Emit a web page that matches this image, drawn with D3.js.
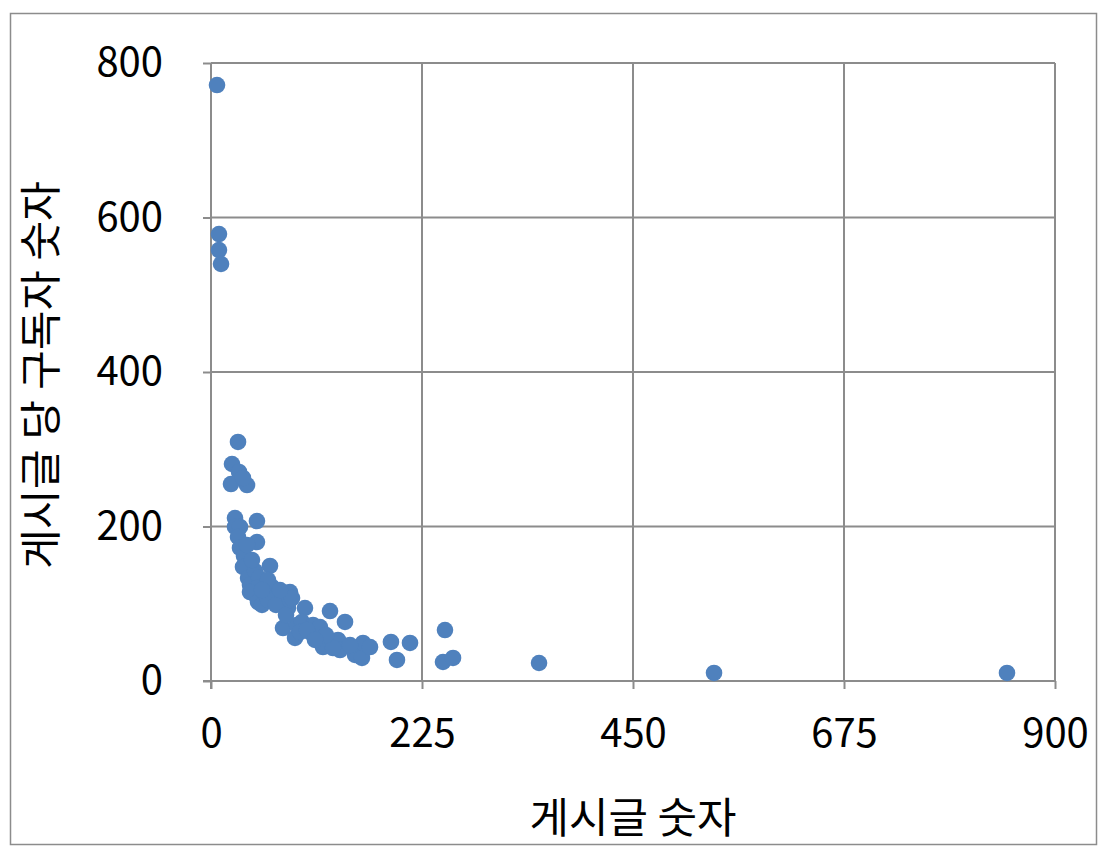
<!DOCTYPE html>
<html><head><meta charset="utf-8">
<script src="https://cdn.jsdelivr.net/npm/d3@7"></script>
<style>
html,body{margin:0;padding:0;background:#fff;}
svg{display:block;}
text{font-family:"Noto Sans CJK KR","Noto Sans",sans-serif;fill:#000;}
</style></head>
<body>
<svg id="chart" width="1104" height="858"></svg>
<script>
const xTicks = [0, 225, 450, 675, 900];
const yTicks = [0, 200, 400, 600, 800];
const xTitle = "게시글 숫자";
const yTitle = "게시글 당 구독자 숫자";
const postCounts = [6.4,8.5,8.5,10.7,28.8,22.4,29.9,21.3,38.4,34.1,25.6,25.6,30.9,28.8,49.0,49.0,30.9,35.2,34.1,39.5,44.8,41.6,46.9,51.2,62.9,49.0,41.6,50.1,54.4,65.0,66.1,60.8,56.5,84.2,82.1,70.4,76.8,91.7,89.6,100.2,97.0,108.8,113.0,119.4,126.9,142.9,135.4,137.6,130.1,105.6,116.2,153.6,161.0,162.1,169.6,191.9,198.3,212.2,249.5,247.4,258.1,349.8,536.4,848.8,60.8,69.3,80.0,94.9,122.6,43.7,38.4,54.4,84.2,86.4,73.6,102.4,110.9,148.2];
const subsPerPost = [771.5,578.6,557.9,539.8,309.4,280.9,270.6,255.0,253.7,262.8,211.0,199.4,199.4,186.4,207.1,179.9,172.2,161.8,147.6,133.3,113.9,124.3,142.4,133.3,148.9,120.4,115.2,102.3,98.4,121.7,107.4,130.7,115.2,115.2,94.5,107.4,68.6,72.5,55.7,94.5,76.4,72.5,57.0,44.0,90.6,76.4,53.1,40.1,42.7,63.4,69.9,33.7,29.8,49.2,44.0,50.5,27.2,49.2,66.0,24.6,29.8,23.3,10.4,10.4,104.9,98.4,85.4,63.4,59.5,156.6,176.1,117.8,104.9,107.4,117.8,66.0,53.1,46.6];

const svg = d3.select("#chart");
const L = 211, R = 1055, T = 63, B = 681;
const x = d3.scaleLinear().domain([0, 900]).range([L, R]);
const y = d3.scaleLinear().domain([0, 800]).range([B, T]);
const grid = "#8c8c8c";

// outer border
svg.append("rect").attr("x", 10.5).attr("y", 13.5).attr("width", 1086).attr("height", 831)
  .attr("fill", "none").attr("stroke", "#8c8c8c").attr("stroke-width", 1.5);

// gridlines
svg.append("g").selectAll("line").data(yTicks.filter(d => d !== 0)).join("line")
  .attr("x1", L).attr("x2", R).attr("y1", d => y(d)).attr("y2", d => y(d))
  .attr("stroke", grid).attr("stroke-width", 2);
svg.append("g").selectAll("line").data(xTicks.filter(d => d !== 0)).join("line")
  .attr("x1", d => x(d)).attr("x2", d => x(d)).attr("y1", T).attr("y2", B)
  .attr("stroke", grid).attr("stroke-width", 2);

// axes
const xAxis = svg.append("g").attr("transform", `translate(0,${B})`)
  .call(d3.axisBottom(x).tickValues(xTicks).tickSize(8).tickPadding(30).tickSizeOuter(0));
const yAxis = svg.append("g").attr("transform", `translate(${L},0)`)
  .call(d3.axisLeft(y).tickValues(yTicks).tickSize(8).tickPadding(40).tickSizeOuter(0));
[xAxis, yAxis].forEach(a => {
  a.select(".domain").attr("stroke", grid).attr("stroke-width", 2);
  a.selectAll(".tick line").attr("stroke", grid).attr("stroke-width", 2);
  a.selectAll(".tick text").attr("font-size", 40)
    .attr("font-family", "'Noto Sans CJK KR','Noto Sans',sans-serif").attr("fill", "#000");
});
yAxis.select(".domain").attr("d", `M0,${T}V${B + 8}`);
xAxis.select(".domain").attr("d", `M${L - 8},0H${R}`);

// points
svg.append("g").selectAll("circle").data(postCounts.map((d, i) => [d, subsPerPost[i]])).join("circle")
  .attr("cx", d => x(d[0])).attr("cy", d => y(d[1])).attr("r", 8.3)
  .attr("fill", "#4f81bd");

// titles
svg.append("text").attr("x", 633).attr("y", 833).attr("text-anchor", "middle")
  .attr("font-size", 42).attr("textLength", 207).attr("lengthAdjust", "spacingAndGlyphs").text(xTitle);
svg.append("text").attr("transform", "translate(56,375) rotate(-90)").attr("text-anchor", "middle")
  .attr("font-size", 42).attr("textLength", 388).attr("lengthAdjust", "spacingAndGlyphs").text(yTitle);
</script>
</body></html>
